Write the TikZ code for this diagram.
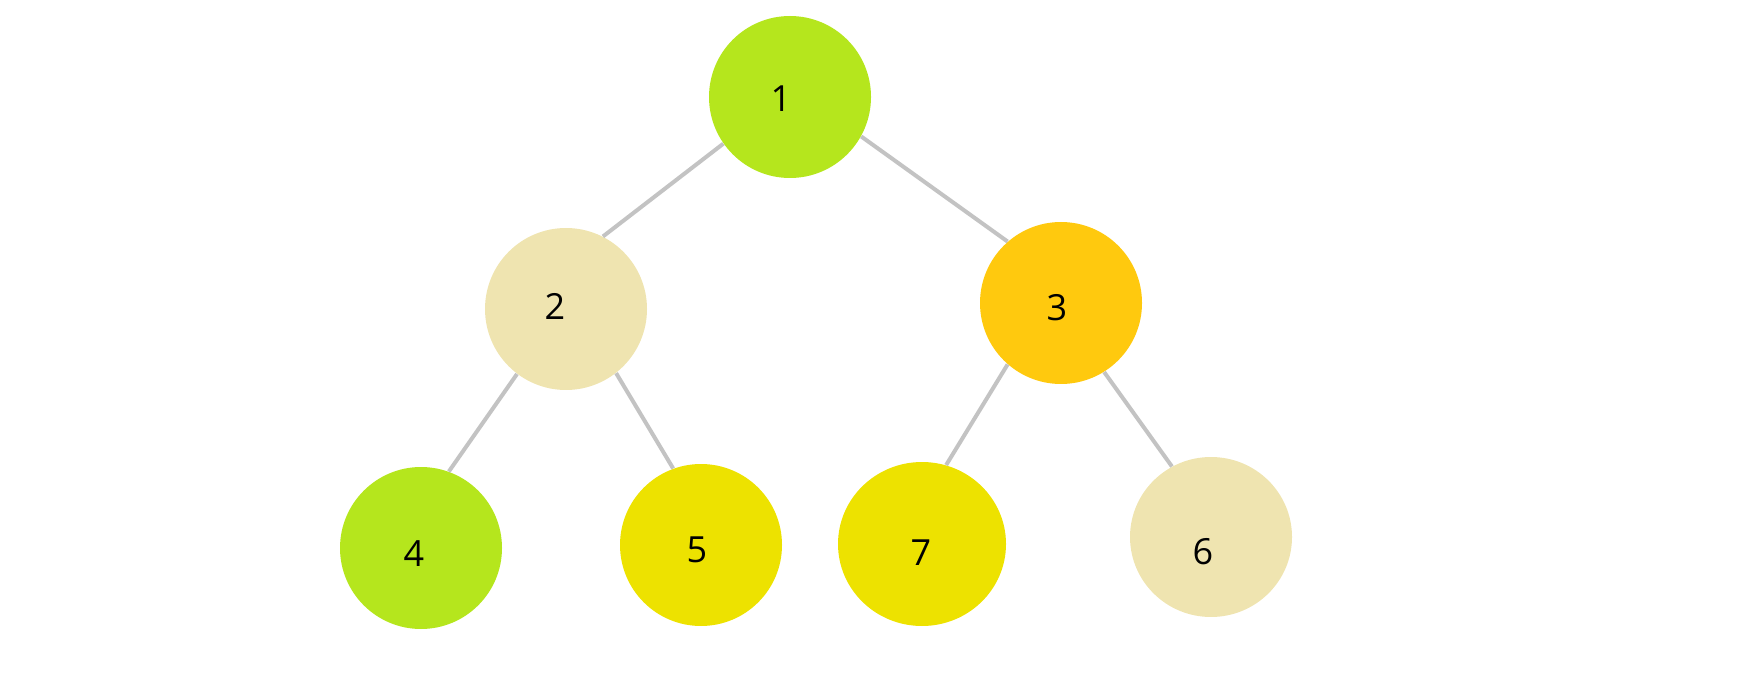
\documentclass[tikz,border=0pt]{standalone}
\usepackage{fontspec}
\setmainfont{Open Sans}
\usetikzlibrary{shapes.geometric}

\definecolor{lime}{HTML}{B5E61D}
\definecolor{sand}{HTML}{EFE4B0}
\definecolor{amber}{HTML}{FFC90E}
\definecolor{lemon}{HTML}{EDE200}
\definecolor{edgegray}{HTML}{C3C3C3}

\begin{document}
\begin{tikzpicture}[
  x=0.5pt, y=-0.5pt,
  ball/.style={ellipse, draw=none, inner sep=0pt,
               minimum width=81pt, minimum height=81pt},
  num/.style={font=\fontsize{18}{20}\selectfont, inner sep=0pt},
  edge/.style={draw=edgegray, line width=2pt}
]
\useasboundingbox (0,0) rectangle (1744,689);

% centres of the balls
\coordinate (c1) at (790,97);
\coordinate (c2) at (566,309);
\coordinate (c3) at (1061,303);
\coordinate (c4) at (421,548);
\coordinate (c5) at (701,545);
\coordinate (c7) at (922,544);
\coordinate (c6) at (1211,537);

\node[ball, fill=lime] (n1) at (c1) {};
\node[ball, fill=sand] (n2) at (c2) {};
\node[ball, fill=amber] (n3) at (c3) {};
\node[ball, fill=lime] (n4) at (c4) {};
\node[ball, fill=lemon] (n5) at (c5) {};
\node[ball, fill=lemon, minimum width=84pt, minimum height=82pt] (n7) at (c7) {};
\node[ball, fill=sand, minimum height=80pt] (n6) at (c6) {};

\draw[edge] (n1.215) -- (n2.63);
\draw[edge] (n1.331) -- (n3.131);
\draw[edge] (n2.233) -- (n4.70);
\draw[edge] (n2.308) -- (n5.110);
\draw[edge] (n3.229) -- (n7.73);
\draw[edge] (n3.302) -- (n6.119);

\node[num] (t1) at ([shift={(-9,2)}]c1) {1};
\node[num] (t2) at ([shift={(-11,-3)}]c2) {2};
\node[num] (t3) at ([shift={(-4,5)}]c3) {3};
\node[num] (t4) at ([shift={(-7,6)}]c4) {4};
\node[num] (t5) at ([shift={(-4,5)}]c5) {5};
\node[num] (t7) at ([shift={(-1,9)}]c7) {7};
\node[num] (t6) at ([shift={(-8,15)}]c6) {6};
\end{tikzpicture}
\end{document}
